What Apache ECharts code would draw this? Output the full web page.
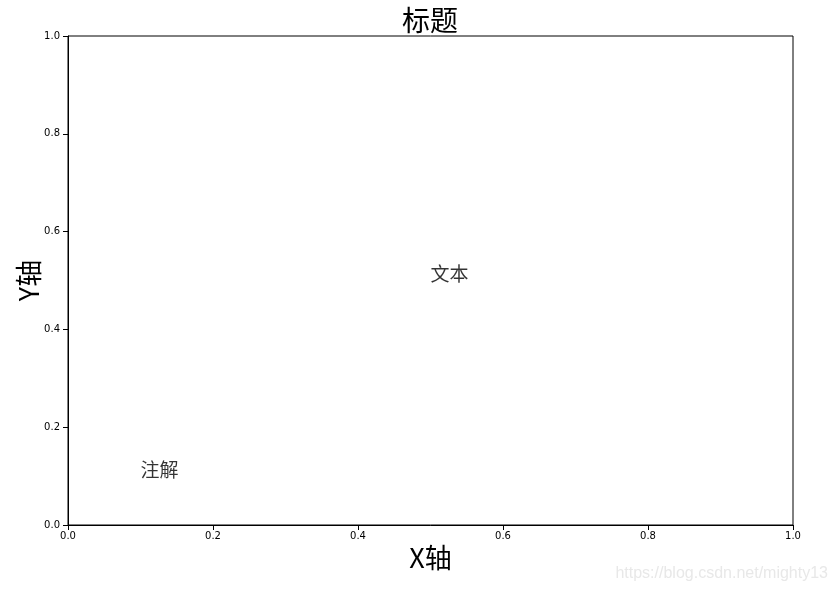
<!DOCTYPE html>
<html>
<head>
<meta charset="utf-8">
<script src="https://cdn.jsdelivr.net/npm/echarts@6/dist/echarts.min.js"></script>
<style>
html,body{margin:0;padding:0;background:#fff;}
#chart{width:836px;height:591px;}
</style>
</head>
<body>
<div id="chart"></div>
<script>
const titleText = '标题';
const xAxisName = 'X轴';
const yAxisName = 'Y轴';
const textLabels = ['文本', '注解'];
const textX = [0.5, 0.1];
const textY = [0.5, 0.1];
const axisMin = 0, axisMax = 1, axisStep = 0.2;

const cjk = '"Noto Sans CJK SC", "DejaVu Sans", sans-serif';
const tickFont = '"DejaVu Sans", sans-serif';

const chart = echarts.init(document.getElementById('chart'));
chart.setOption({
  backgroundColor: '#fff',
  animation: false,
  title: {
    text: titleText, left: 425, top: 1, textAlign: 'center',
    textStyle: { fontFamily: cjk, fontSize: 28, fontWeight: 'normal', color: '#000' }
  },
  grid: { left: 68, right: 43, top: 36, bottom: 66, show: true, borderColor: '#000', borderWidth: 1, backgroundColor: 'transparent', containLabel: false, outerBoundsMode: 'none' },
  xAxis: {
    type: 'value', min: axisMin, max: axisMax, interval: axisStep,
    name: xAxisName, nameLocation: 'middle', nameGap: 19, nameMoveOverlap: false,
    nameTextStyle: { fontFamily: cjk, fontSize: 27, color: '#000', verticalAlign: 'top' },
    axisLine: { show: true, onZero: false, lineStyle: { color: '#000', width: 1 } },
    axisTick: { show: true, inside: false, length: 5, lineStyle: { color: '#000' } },
    axisLabel: { fontFamily: tickFont, fontSize: 10, color: '#000', margin: 6, formatter: v => v.toFixed(1) },
    splitLine: { show: false }
  },
  yAxis: {
    type: 'value', min: axisMin, max: axisMax, interval: axisStep,
    name: yAxisName, nameLocation: 'middle', nameGap: 26, nameRotate: 90, nameMoveOverlap: false,
    nameTextStyle: { fontFamily: cjk, fontSize: 27, color: '#000', verticalAlign: 'bottom' },
    axisLine: { show: true, onZero: false, lineStyle: { color: '#000', width: 1 } },
    axisTick: { show: true, inside: false, length: 5, lineStyle: { color: '#000' } },
    axisLabel: { fontFamily: tickFont, fontSize: 10, color: '#000', margin: 8, formatter: v => v.toFixed(1) },
    splitLine: { show: false }
  },
  series: [{
    type: 'scatter',
    symbolSize: 0,
    silent: true,
    data: textLabels.map((t, i) => ({ value: [textX[i], textY[i]], name: t })),
    label: {
      show: true, position: [0, 3], formatter: p => p.name,
      align: 'left', verticalAlign: 'bottom',
      fontFamily: cjk, fontSize: 19, color: '#000'
    }
  }],
  graphic: [{
    type: 'text', right: 8, top: 566,
    style: { text: 'https://blog.csdn.net/mighty13', font: '16px "Liberation Sans", Arial, sans-serif', fill: '#e8e8e8' }
  }]
});
</script>
</body>
</html>
